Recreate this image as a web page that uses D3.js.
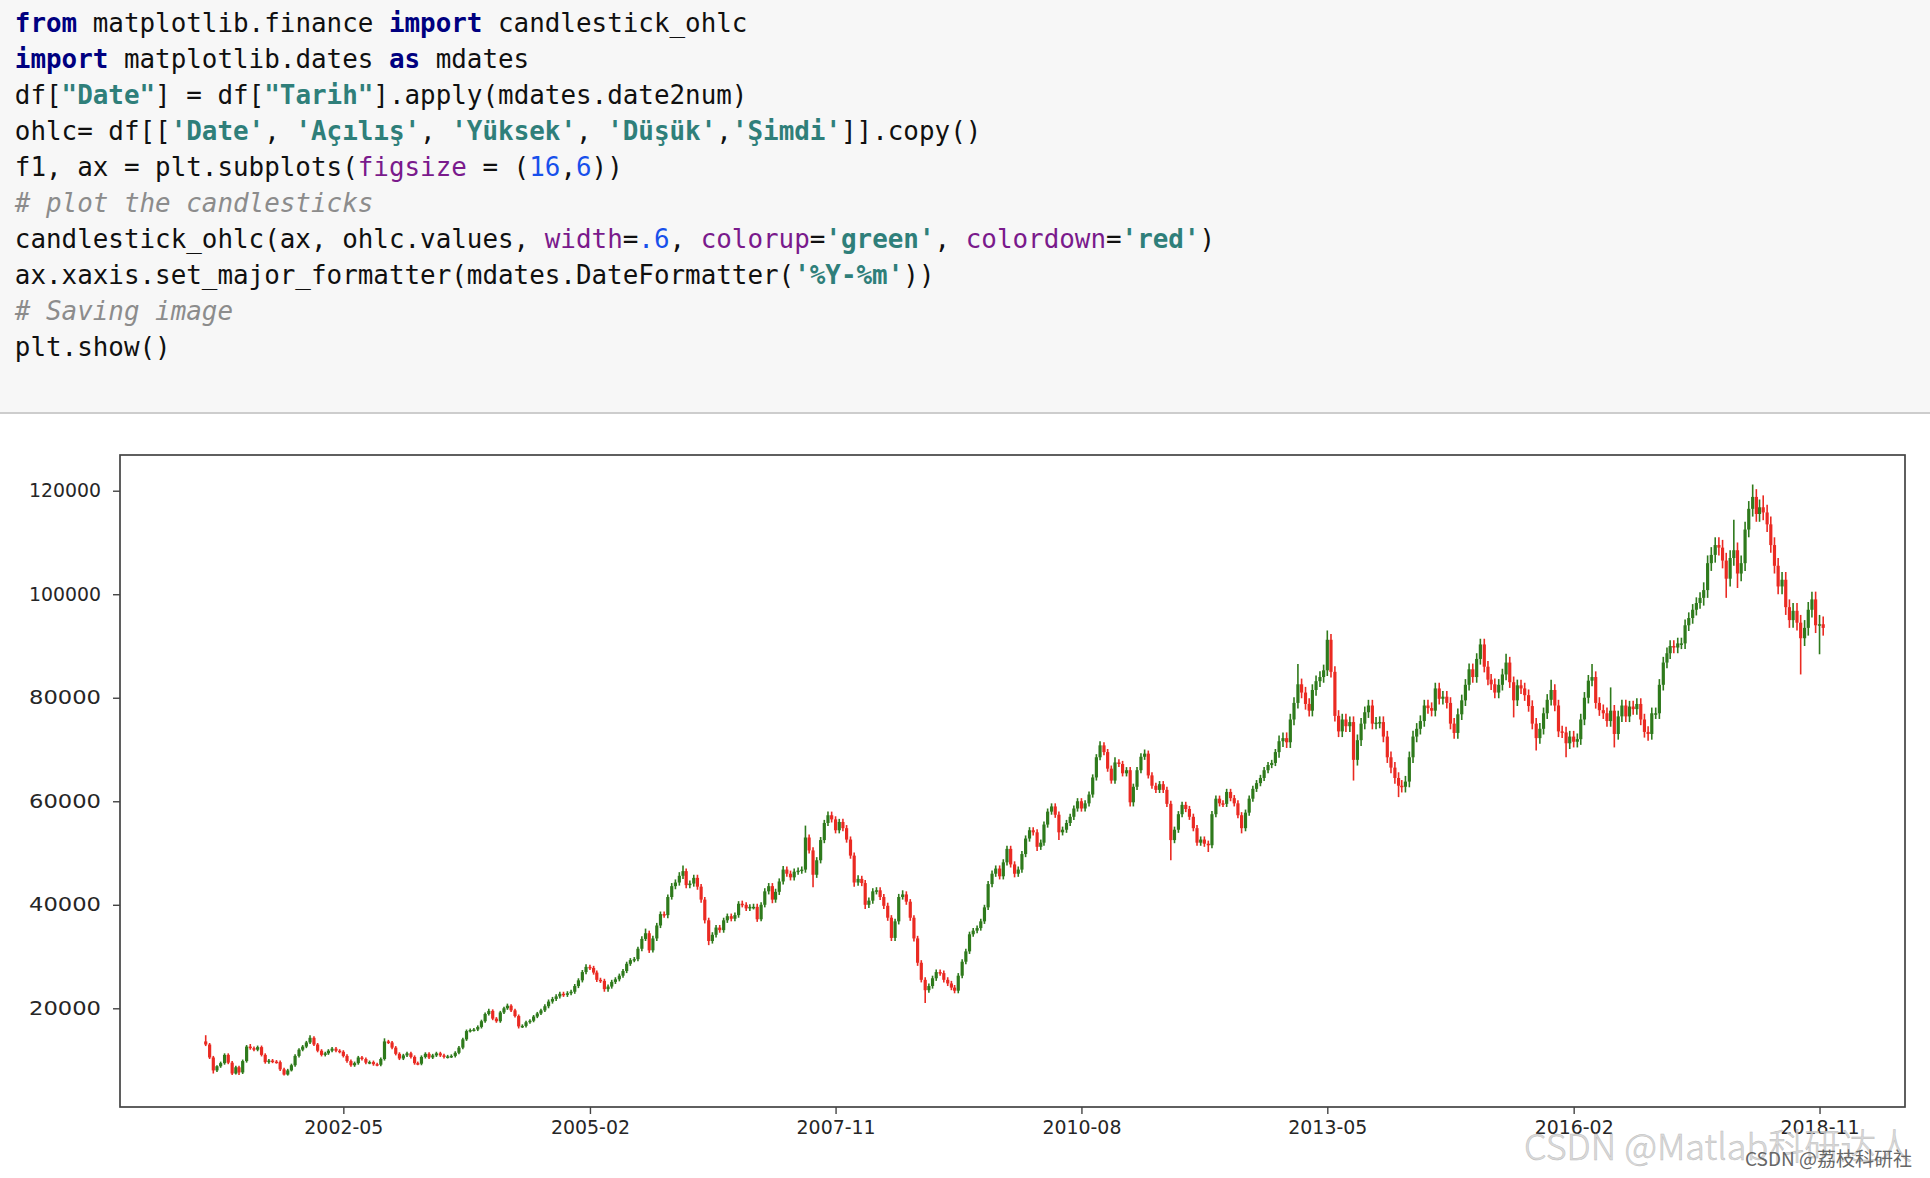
<!DOCTYPE html>
<html><head><meta charset="utf-8">
<script src="https://cdn.jsdelivr.net/npm/d3@7"></script>
<style>
html,body{margin:0;padding:0;background:#fff;}
svg{display:block;}
</style></head>
<body>
<svg id="fig" width="1930" height="1178"></svg>
<script>
// ---------------- DATA ----------------
// Half-monthly candles (16th, then 1st of next month, ...) starting 2000-10-16.
// Values in thousands of index points; open = previous close.
const firstDate = "2000-10-16";
const firstOpenK = 13.6;
const closeK = [
 13.0,10.5,8.0,8.8,9.4,11.0,9.5,7.4,8.6,7.6,9.8,12.6,
 12.3,12.0,12.5,11.0,9.6,9.9,9.7,9.6,8.2,7.2,8.0,9.0,
 10.8,12.0,12.6,13.4,14.3,13.0,11.8,11.0,11.3,11.8,12.2,11.8,
 11.6,10.8,9.8,9.0,9.4,10.5,10.2,9.5,9.6,9.2,9.1,10.2,
 13.6,13.4,12.4,11.2,10.3,10.9,11.3,10.6,9.4,9.3,10.6,11.2,
 10.5,10.9,11.3,10.9,10.6,10.7,10.8,11.4,12.4,14.0,15.6,15.8,
 15.9,16.4,17.5,18.9,19.5,18.0,17.5,19.2,20.0,20.5,19.6,18.5,
 16.5,16.6,17.3,17.6,18.4,19.0,19.6,20.4,21.3,21.8,22.3,22.8,
 22.6,22.9,23.2,24.3,25.4,27.0,28.0,27.8,26.9,25.5,25.3,23.7,
 24.2,25.1,25.6,26.3,27.2,28.6,29.3,29.5,31.5,33.4,34.5,31.2,
 33.5,36.0,38.2,38.0,41.5,43.6,44.3,45.6,46.5,43.8,44.1,45.2,
 43.5,41.0,37.0,33.0,34.2,35.6,35.1,37.0,37.8,37.3,38.0,40.2,
 40.0,39.3,39.6,39.6,37.2,40.0,42.6,43.6,41.0,42.5,44.5,46.8,
 46.0,45.3,46.4,46.6,46.8,53.0,50.5,45.8,48.6,52.5,55.8,57.3,
 56.5,54.4,56.0,54.8,52.6,49.5,44.3,45.0,44.2,40.0,40.8,42.6,
 42.8,41.5,39.8,37.5,33.6,36.8,41.5,42.0,40.6,37.5,33.5,28.8,
 25.5,23.5,24.3,25.8,27.0,26.8,25.5,24.8,24.0,23.4,26.3,29.0,
 31.0,34.3,35.0,35.5,36.8,39.5,44.0,46.0,47.0,45.5,48.2,50.8,
 47.8,46.0,46.8,49.8,52.8,54.4,54.0,51.2,52.0,55.5,58.0,59.0,
 57.4,54.0,54.5,55.8,57.0,58.6,60.0,58.6,59.6,61.3,64.6,68.5,
 70.8,69.5,66.3,64.0,67.5,67.2,65.4,66.0,59.8,62.8,66.0,68.6,
 69.2,65.0,63.0,62.2,63.3,62.2,59.5,52.5,54.5,57.5,59.3,58.5,
 57.0,54.8,52.0,52.6,51.8,51.5,57.5,60.5,59.6,59.5,61.8,60.6,
 59.6,57.3,54.8,57.8,60.5,62.4,63.5,64.5,66.0,67.0,67.4,69.5,
 71.6,72.2,71.4,75.8,79.0,82.6,81.0,78.8,77.5,81.5,83.2,84.0,
 85.3,91.2,85.0,76.5,73.5,75.8,74.5,75.3,68.0,71.8,75.0,77.2,
 78.5,75.0,75.2,75.3,72.5,68.5,66.5,64.5,63.0,62.8,63.8,68.5,
 72.5,74.0,75.5,78.5,78.0,77.5,81.8,79.8,80.2,79.0,75.0,73.2,
 76.8,79.5,82.5,85.5,84.0,87.5,90.3,86.0,83.5,82.6,81.0,82.5,
 84.5,86.8,83.0,79.5,82.4,81.8,80.5,78.4,75.0,72.2,74.0,77.0,
 79.6,81.5,78.5,73.5,73.3,71.2,72.5,71.5,72.0,75.8,80.0,83.3,
 84.0,79.0,77.6,77.0,75.5,77.5,73.0,76.4,78.5,76.4,78.3,77.8,
 78.8,75.8,73.4,73.0,77.0,77.0,82.5,86.8,88.6,90.0,89.7,90.5,
 90.5,94.0,95.4,97.0,98.3,99.3,100.8,106.0,107.6,109.5,109.0,106.5,
 103.0,107.0,108.5,104.0,106.0,112.5,116.5,118.8,115.5,116.8,115.8,
 113.5,109.5,105.5,101.5,102.8,97.5,95.0,96.8,94.5,91.5,93.5,
 97.0,99.0,94.0,94.2,93.5
];
const highK = [
 14.8,13.3,10.8,9.0,9.7,11.3,11.3,9.8,8.9,8.9,10.1,12.9,
 13.1,12.6,12.8,12.8,11.3,10.2,10.2,10.0,9.9,8.5,8.3,9.3,
 11.1,12.3,12.9,13.7,14.8,14.6,13.3,12.1,11.6,12.1,12.5,12.5,
 12.1,11.9,11.1,10.1,9.7,10.8,10.8,10.5,9.9,9.9,9.5,10.5,
 14.2,13.9,13.7,12.7,11.5,11.2,11.6,11.6,10.9,9.7,10.9,11.5,
 11.5,11.2,11.6,11.6,11.2,11.0,11.1,11.7,12.7,14.3,15.9,16.1,
 16.2,16.7,17.8,19.2,19.9,19.8,18.3,19.5,20.3,20.9,20.8,19.9,
 18.8,16.9,17.6,17.9,18.7,19.3,19.9,20.8,21.7,22.2,22.7,23.2,
 23.2,23.3,23.6,24.7,25.8,27.4,28.5,28.4,28.2,27.3,25.9,25.7,
 24.6,25.5,26.0,26.7,27.6,29.0,29.7,29.9,31.9,33.9,35.4,35.0,
 34.0,36.5,38.7,38.7,42.0,44.2,44.9,46.3,47.6,47.0,44.7,45.8,
 45.8,44.0,41.5,37.5,34.7,36.1,36.1,37.5,38.3,38.3,38.5,40.7,
 40.8,40.5,40.1,40.2,40.2,40.5,43.2,44.2,44.2,43.1,45.1,47.5,
 47.4,46.6,47.0,47.2,47.4,55.3,53.6,51.1,49.2,53.1,56.4,58.0,
 58.0,57.1,56.6,56.6,55.4,53.2,50.1,45.7,45.6,44.8,41.4,43.2,
 43.4,43.4,42.1,40.4,38.0,37.3,42.1,42.8,42.6,41.1,38.0,34.0,
 29.3,26.0,24.8,26.3,27.5,27.5,27.3,26.0,25.3,24.5,26.8,29.5,
 31.5,34.8,35.5,36.0,37.3,40.0,44.6,46.6,47.6,47.6,48.8,51.4,
 51.4,48.4,47.4,50.4,53.4,55.0,55.0,54.6,52.6,56.1,58.6,59.6,
 59.6,58.0,55.1,56.4,57.6,59.2,60.6,60.6,60.2,61.9,65.2,69.1,
 71.6,71.4,70.1,66.9,68.5,68.1,67.8,66.6,66.6,63.4,66.6,69.3,
 70.0,69.8,65.6,63.6,63.9,63.9,62.8,60.1,55.1,58.1,59.9,59.9,
 59.1,57.6,55.4,53.2,53.2,52.4,58.1,61.1,61.1,60.2,62.4,62.4,
 61.2,60.2,57.9,58.4,61.1,63.0,64.1,65.1,66.6,67.6,68.0,70.1,
 72.7,73.3,73.3,76.9,80.1,86.5,83.7,82.1,79.9,82.6,84.3,85.1,
 86.4,93.0,92.3,86.1,77.6,76.9,76.9,76.4,76.4,72.9,76.1,78.3,
 79.6,79.6,76.3,76.4,76.4,73.6,69.6,67.6,65.6,64.1,64.9,69.6,
 73.6,75.1,76.6,79.6,79.6,79.1,82.9,82.9,81.3,81.3,80.1,76.1,
 77.9,80.6,83.6,86.6,86.6,88.6,91.4,91.4,87.1,84.6,83.7,83.6,
 85.6,88.5,87.9,84.1,83.5,83.5,82.9,81.6,79.5,76.1,75.1,78.1,
 80.7,83.5,82.6,79.6,74.6,74.4,73.6,73.6,73.1,76.9,81.1,84.4,
 86.5,85.1,80.1,78.7,78.1,82.0,78.6,77.5,79.6,79.6,79.4,79.4,
 79.9,79.9,76.9,74.5,78.1,78.1,83.6,87.9,89.7,91.1,91.1,91.6,
 91.6,95.1,96.5,98.1,99.4,100.4,102.3,107.5,109.1,111.0,111.0,110.5,
 108.0,108.5,114.4,110.0,107.5,114.0,118.0,121.2,120.3,118.3,119.1,
 117.3,115.0,111.0,107.0,104.3,104.3,99.0,98.3,98.3,96.0,95.0,
 98.5,100.5,100.5,96.0,95.7
];
const lowK = [
 12.7,10.2,7.4,7.7,8.5,9.1,9.2,7.1,7.2,7.1,7.3,9.5,
 12.0,11.7,11.7,10.7,9.3,9.3,9.4,9.3,7.9,7.0,7.0,7.8,
 8.7,10.5,11.7,12.3,13.1,12.7,11.5,10.7,10.7,11.0,11.5,11.5,
 11.3,10.5,9.5,8.7,8.7,9.1,9.9,9.2,9.2,8.9,8.8,8.8,
 9.9,13.1,12.1,10.9,10.0,10.0,10.6,10.3,9.1,9.0,9.0,10.3,
 10.2,10.2,10.6,10.6,10.3,10.3,10.4,10.5,11.1,12.1,13.7,15.3,
 15.5,15.6,16.1,17.2,18.6,17.7,17.2,17.2,18.9,19.7,19.3,18.2,
 16.1,16.2,16.3,17.0,17.3,18.1,18.7,19.3,20.0,20.9,21.4,21.9,
 22.2,22.2,22.5,22.8,23.9,25.0,26.6,27.4,26.5,25.1,24.9,23.2,
 23.2,23.8,24.7,25.2,25.9,26.8,28.2,28.9,29.1,31.0,33.0,30.7,
 30.8,33.0,35.5,37.5,37.4,41.0,43.0,43.7,45.0,43.2,43.2,43.5,
 42.9,40.4,36.4,32.2,32.5,33.7,34.6,34.6,36.5,36.8,36.8,37.5,
 39.5,38.8,38.8,39.1,36.7,36.8,39.5,42.0,40.3,40.4,41.9,43.9,
 45.4,44.7,44.7,45.8,46.0,46.2,49.9,43.4,45.2,48.0,51.9,55.2,
 55.9,53.8,53.8,54.2,52.0,48.9,43.5,43.7,43.6,39.2,39.4,40.2,
 42.0,40.9,39.2,36.9,33.0,33.0,36.2,41.0,40.0,36.9,32.9,28.2,
 25.0,21.0,23.0,23.8,25.3,26.3,25.0,24.3,23.5,22.9,22.9,25.8,
 28.5,30.5,33.8,34.5,35.0,36.3,39.0,43.4,45.4,44.9,44.9,47.6,
 47.2,45.3,45.4,46.2,49.2,52.2,53.4,50.4,50.6,51.4,54.9,57.4,
 56.8,52.5,53.4,53.9,55.2,56.4,58.0,58.0,58.0,59.0,60.7,64.0,
 67.9,68.9,65.7,63.4,63.4,66.6,64.8,64.8,59.0,59.0,62.2,65.4,
 68.0,64.4,62.4,61.6,61.6,61.6,58.9,48.6,51.9,53.9,56.9,57.9,
 56.4,54.2,51.4,51.4,51.2,50.2,50.9,56.9,59.0,58.9,58.9,60.0,
 59.0,56.7,53.8,54.2,57.2,59.9,61.8,62.9,63.9,65.4,66.4,66.8,
 68.4,70.5,70.3,70.3,74.7,77.9,79.9,77.7,76.4,76.4,80.4,82.1,
 82.9,84.2,83.9,75.4,72.4,72.4,73.4,73.4,64.0,66.9,70.7,73.9,
 76.1,73.9,73.9,74.1,71.4,67.4,65.4,63.4,60.8,61.7,61.7,62.7,
 67.4,71.4,72.9,74.4,76.9,76.4,76.4,78.7,78.7,77.9,73.9,72.1,
 72.1,75.7,78.4,81.4,82.9,82.9,86.4,84.9,82.4,81.5,79.9,79.9,
 81.4,83.4,81.9,76.2,78.4,80.7,79.4,77.3,73.9,69.8,71.1,72.9,
 75.9,78.5,77.4,72.4,72.2,68.5,70.1,70.4,70.4,70.9,74.7,78.9,
 82.2,77.9,76.5,75.9,74.4,74.4,70.4,71.9,75.3,75.3,75.3,76.7,
 76.7,74.7,72.3,71.7,71.9,75.9,75.9,81.4,85.7,87.5,88.6,88.6,
 89.4,89.4,92.9,94.3,95.9,97.2,97.8,99.3,104.5,106.1,107.5,105.0,
 99.3,101.5,105.5,101.2,102.5,104.5,111.0,115.0,114.0,114.0,114.3,
 112.0,108.0,104.0,100.0,100.0,96.0,93.5,93.5,93.0,84.5,90.0,
 92.0,95.5,92.5,88.4,92.0
];
const yTicks = [20000, 40000, 60000, 80000, 100000, 120000];
const xTickLabels = ["2002-05","2005-02","2007-11","2010-08","2013-05","2016-02","2018-11"];
const xLimits = ["1999-11-01", "2019-10-16"];
const yLimits = [930, 126900];

const codeLines = [
 [["from","k"],[" matplotlib.finance ","t"],["import","k"],[" candlestick_ohlc","t"]],
 [["import","k"],[" matplotlib.dates ","t"],["as","k"],[" mdates","t"]],
 [["df[","t"],["\"Date\"","s"],["] = df[","t"],["\"Tarih\"","s"],["].apply(mdates.date2num)","t"]],
 [["ohlc= df[[","t"],["'Date'","s"],[", ","t"],["'Açılış'","s"],[", ","t"],["'Yüksek'","s"],[", ","t"],["'Düşük'","s"],[",","t"],["'Şimdi'","s"],["]].copy()","t"]],
 [["f1, ax = plt.subplots(","t"],["figsize","p"],[" = (","t"],["16","n"],[",","t"],["6","n"],["))","t"]],
 [["# plot the candlesticks","c"]],
 [["candlestick_ohlc(ax, ohlc.values, ","t"],["width","p"],["=","t"],[".6","n"],[", ","t"],["colorup","p"],["=","t"],["'green'","s"],[", ","t"],["colordown","p"],["=","t"],["'red'","s"],[")","t"]],
 [["ax.xaxis.set_major_formatter(mdates.DateFormatter(","t"],["'%Y-%m'","s"],["))","t"]],
 [["# Saving image","c"]],
 [["plt.show()","t"]]
];

// ---------------- DRAWING ----------------
const svg = d3.select("#fig");
const W = 1930, H = 1178;
svg.append("rect").attr("width", W).attr("height", H).attr("fill", "#ffffff");

const defs = svg.append("defs");
defs.append("filter").attr("id","soft").attr("x","-5%").attr("y","-5%").attr("width","110%").attr("height","110%")
  .append("feGaussianBlur").attr("stdDeviation", 0.55);

// code cell
svg.append("rect").attr("x",0).attr("y",0).attr("width",W).attr("height",412).attr("fill","#f7f7f7");
svg.append("rect").attr("x",0).attr("y",412).attr("width",W).attr("height",2).attr("fill","#cdcdcd");

const tokStyle = {
  k: {fill:"#000080", weight:"bold", style:"normal"},
  s: {fill:"#2f7f7a", weight:"bold", style:"normal"},
  n: {fill:"#1750eb", weight:"normal", style:"normal"},
  p: {fill:"#7a1a8c", weight:"normal", style:"normal"},
  c: {fill:"#8c8c8c", weight:"normal", style:"italic"},
  t: {fill:"#101010", weight:"normal", style:"normal"}
};
const codeG = svg.append("g")
  .attr("font-family", "'DejaVu Sans Mono','Liberation Mono',monospace")
  .attr("font-size", 25.9)
  .style("white-space", "pre");
codeLines.forEach((tokens, i) => {
  const t = codeG.append("text").attr("x", 14.8).attr("y", 32.3 + 36 * i).attr("xml:space","preserve");
  tokens.forEach(([txt, st]) => {
    const s = tokStyle[st];
    t.append("tspan").text(txt).attr("fill", s.fill).attr("font-weight", s.weight).attr("font-style", s.style);
  });
});

// chart
const plot = {left:120, right:1905, top:455, bottom:1107};
const parseDay = d3.timeParse("%Y-%m-%d");
const parseMonth = d3.timeParse("%Y-%m");
const x = d3.scaleTime().domain(xLimits.map(parseDay)).range([plot.left, plot.right]);
const y = d3.scaleLinear().domain(yLimits).range([plot.bottom, plot.top]);

const d0 = parseDay(firstDate);
function candleDate(k) {
  return (k % 2 === 0)
    ? new Date(d0.getFullYear(), d0.getMonth() + k / 2, 16)
    : new Date(d0.getFullYear(), d0.getMonth() + (k + 1) / 2, 1);
}
const candles = closeK.map((c, k) => {
  const open = (k === 0 ? firstOpenK : closeK[k - 1]) * 1000;
  const close = c * 1000;
  return {
    date: candleDate(k), open, close,
    high: Math.max(highK[k] * 1000, open, close),
    low: Math.min(lowK[k] * 1000, open, close)
  };
});

const UP = "#2f7a1c", DOWN = "#ea2a22";
defs.append("clipPath").attr("id","clip").append("rect")
  .attr("x", plot.left).attr("y", plot.top).attr("width", plot.right - plot.left).attr("height", plot.bottom - plot.top);
const cg = svg.append("g").attr("clip-path","url(#clip)").append("g").attr("filter","url(#soft)");

const bodyW = d => x(d3.timeDay.offset(d.date, 13.5)) - x(d.date);

cg.selectAll("line.wick").data(candles).join("line")
  .attr("class","wick")
  .attr("x1", d => x(d.date)).attr("x2", d => x(d.date))
  .attr("y1", d => y(d.high)).attr("y2", d => y(d.low))
  .attr("stroke", d => d.close >= d.open ? UP : DOWN)
  .attr("stroke-width", 1.6);

cg.selectAll("rect.body").data(candles).join("rect")
  .attr("class","body")
  .attr("x", d => x(d.date) - bodyW(d) / 2)
  .attr("width", d => bodyW(d))
  .attr("y", d => y(Math.max(d.open, d.close)))
  .attr("height", d => Math.max(1.5, Math.abs(y(d.open) - y(d.close))))
  .attr("fill", d => d.close >= d.open ? UP : DOWN);

// axes box
svg.append("rect")
  .attr("x", plot.left).attr("y", plot.top)
  .attr("width", plot.right - plot.left).attr("height", plot.bottom - plot.top)
  .attr("fill","none").attr("stroke","#444").attr("stroke-width",1.7);

const yAxis = d3.axisLeft(y).tickValues(yTicks).tickSize(7).tickPadding(12)
  .tickFormat(d3.format("d")).tickSizeOuter(0);
svg.append("g").attr("transform", `translate(${plot.left},0)`).call(yAxis)
  .call(g => g.select(".domain").remove())
  .call(g => g.selectAll("line").attr("stroke","#444").attr("stroke-width",1.4))
  .call(g => g.selectAll("text").attr("font-family","'DejaVu Sans',sans-serif").attr("font-size",19)
      .attr("fill","#262626").attr("textLength",72).attr("lengthAdjust","spacingAndGlyphs"));

const xAxis = d3.axisBottom(x).tickValues(xTickLabels.map(parseMonth)).tickSize(7).tickPadding(7)
  .tickFormat(d3.timeFormat("%Y-%m")).tickSizeOuter(0);
svg.append("g").attr("transform", `translate(0,${plot.bottom})`).call(xAxis)
  .call(g => g.select(".domain").remove())
  .call(g => g.selectAll("line").attr("stroke","#444").attr("stroke-width",1.4))
  .call(g => g.selectAll("text").attr("font-family","'DejaVu Sans',sans-serif").attr("font-size",19)
      .attr("fill","#262626").attr("textLength",79).attr("lengthAdjust","spacingAndGlyphs"));

// watermarks (overlap the x labels as in the reference)
svg.append("text").attr("x", 1524).attr("y", 1160)
  .attr("font-family","'Noto Sans CJK SC','Noto Sans',sans-serif").attr("font-weight",300)
  .attr("font-size",36).attr("fill","#d4d4d4").attr("fill-opacity",0.85)
  .attr("stroke","#bdbdbd").attr("stroke-width",0.5)
  .text("CSDN @Matlab科研达人");
svg.append("text").attr("x", 1745).attr("y", 1166)
  .attr("font-family","'Noto Sans CJK SC','Noto Sans',sans-serif")
  .attr("font-size",19).attr("fill","#666666")
  .text("CSDN @荔枝科研社");
</script>
</body></html>
